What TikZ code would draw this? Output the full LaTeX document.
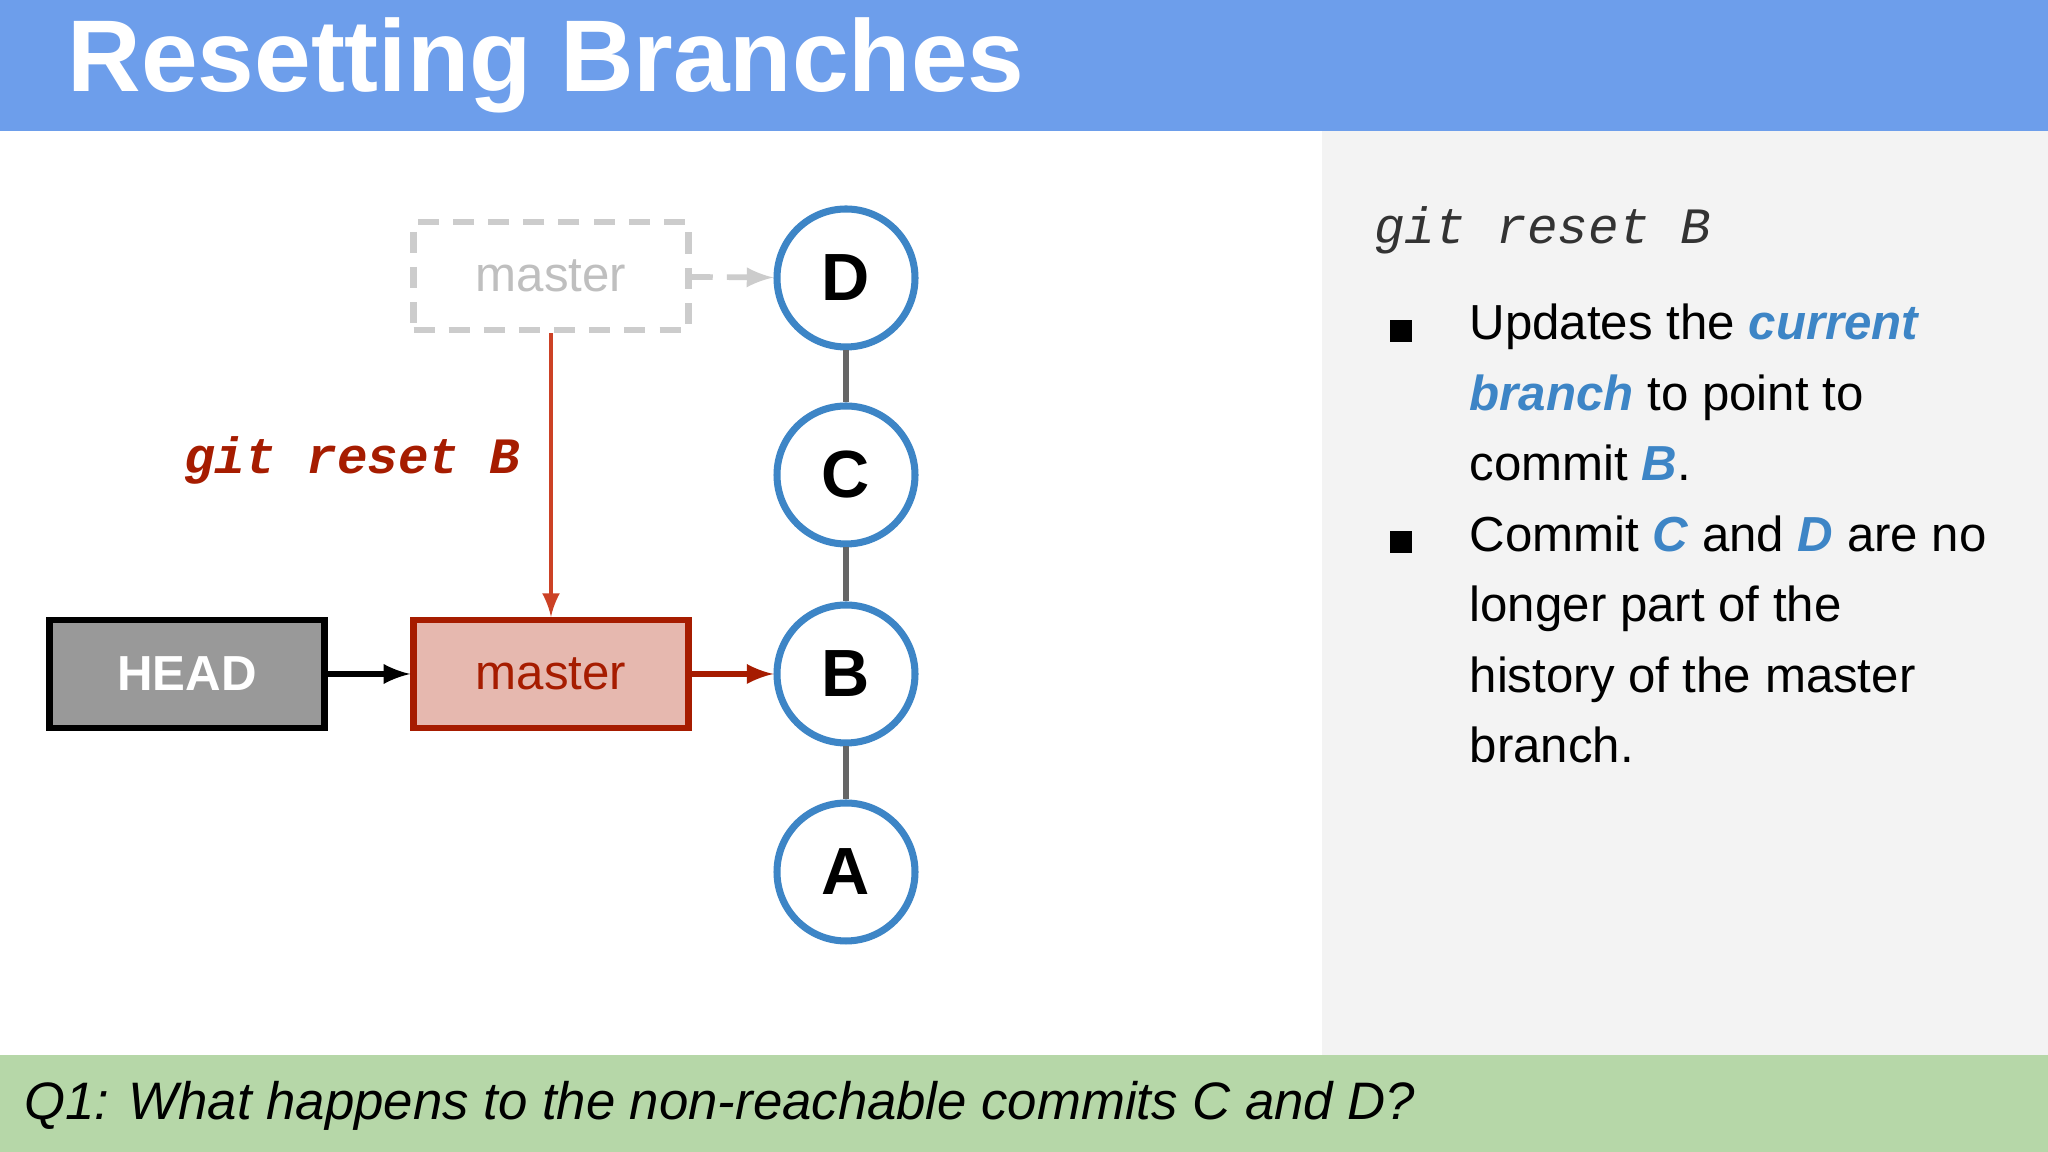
\documentclass[tikz,border=0pt]{standalone}
\usepackage{fontspec}
\setmainfont{Liberation Sans}
\setmonofont{Liberation Mono}
\usepackage{tikz}
\usetikzlibrary{positioning,arrows.meta}
\definecolor{titleblue}{HTML}{6D9EEB}
\definecolor{panelgray}{HTML}{F3F3F3}
\definecolor{bargreen}{HTML}{B6D7A8}
\definecolor{commitblue}{HTML}{3D85C6}
\definecolor{darkred}{HTML}{A61C00}
\definecolor{lightred}{HTML}{E6B8AF}
\definecolor{arrowred}{HTML}{CC4125}
\tikzset{
  commit/.style={draw=commitblue, line width=2pt, circle, fill=white, minimum size=1.38cm, inner sep=0pt, font=\fontsize{19}{19}\selectfont\bfseries},
  branch/.style={draw, rectangle, line width=1.8pt, minimum width=2.75cm, minimum height=1.08cm, font=\fontsize{14}{14}\selectfont},
  line/.style={anchor=base west, inner sep=0pt, font=\fontsize{14}{14}\selectfont},
  hl/.style={}
}
\newcommand{\hlt}[1]{\textcolor{commitblue}{\bfseries\itshape #1}}
\begin{document}
\begin{tikzpicture}[>=latex]
        % Background
        \useasboundingbox (0,0) rectangle (20.48,11.52);
        \fill[white] (0,0) rectangle (20.48,11.52);
        \fill[titleblue] (0,10.21) rectangle (20.48,11.52);
        \fill[panelgray] (13.22,0.97) rectangle (20.48,10.21);
        \fill[bargreen] (0,0) rectangle (20.48,0.97);
        \node[anchor=west, white, font=\fontsize{29}{29}\selectfont\bfseries] (title) at (0.55,10.87) {Resetting Branches};

        % Commits
        \node[commit] (D) at (8.46,8.74) {D};
        \node[commit] (C) at (8.46,6.77) {C};
        \node[commit] (B) at (8.46,4.78) {B};
        \node[commit] (A) at (8.46,2.80) {A};

        % Branches
        \node[branch, fill=black!40, text=white, font=\fontsize{14}{14}\selectfont\bfseries] (head) at (1.87,4.78) {HEAD};
        \node[branch, draw=darkred, fill=lightred, text=darkred] (master) at (5.51,4.78) {master};
        \node[branch, draw=black!20, dashed, dash pattern=on 6pt off 4pt, text=black!25] (oldmaster) at (5.51,8.76) {master};
        \node[anchor=east, text=darkred, font=\fontsize{14.5}{14.5}\selectfont\ttfamily\bfseries\itshape] (cmd) at (5.33,6.92) {git reset B};

        % Arrows
        \draw[line width=1.6pt, black!60] (D) -- (C);
        \draw[line width=1.6pt, black!60] (C) -- (B);
        \draw[line width=1.6pt, black!60] (B) -- (A);
        \draw[->, line width=1.6pt, black!20, dashed, dash pattern=on 6pt off 4pt] (oldmaster) -- (D);
        \draw[->, line width=1.3pt, arrowred] (oldmaster) -- (master);
        \draw[->, line width=1.6pt, darkred] (master) -- (B);
        \draw[->, line width=1.6pt] (head) -- (master);

        % Notes
        \node[anchor=west, text=black!80, font=\fontsize{14.5}{14.5}\selectfont\ttfamily\itshape] (note) at (13.62,9.22) {git reset B};
        \node[line] (l1) at (14.69,8.12) {Updates the \hlt{current}};
        \node[line] (l2) at (14.69,7.415) {\hlt{branch} to point to};
        \node[line] (l3) at (14.69,6.71) {commit \hlt{B}.};
        \node[line] (l4) at (14.69,6.005) {Commit \hlt{C} and \hlt{D} are no};
        \node[line] (l5) at (14.69,5.30) {longer part of the};
        \node[line] (l6) at (14.69,4.595) {history of the master};
        \node[line] (l7) at (14.69,3.89) {branch.};
        \fill (13.90,8.10) rectangle (14.12,8.32);
        \fill (13.90,5.99) rectangle (14.12,6.21);

        % Question
        \node[anchor=west, font=\fontsize{15}{15}\selectfont\itshape] (q) at (0.12,0.46) {Q1: What happens to the non-reachable commits C and D?};
\end{tikzpicture}
\end{document}
